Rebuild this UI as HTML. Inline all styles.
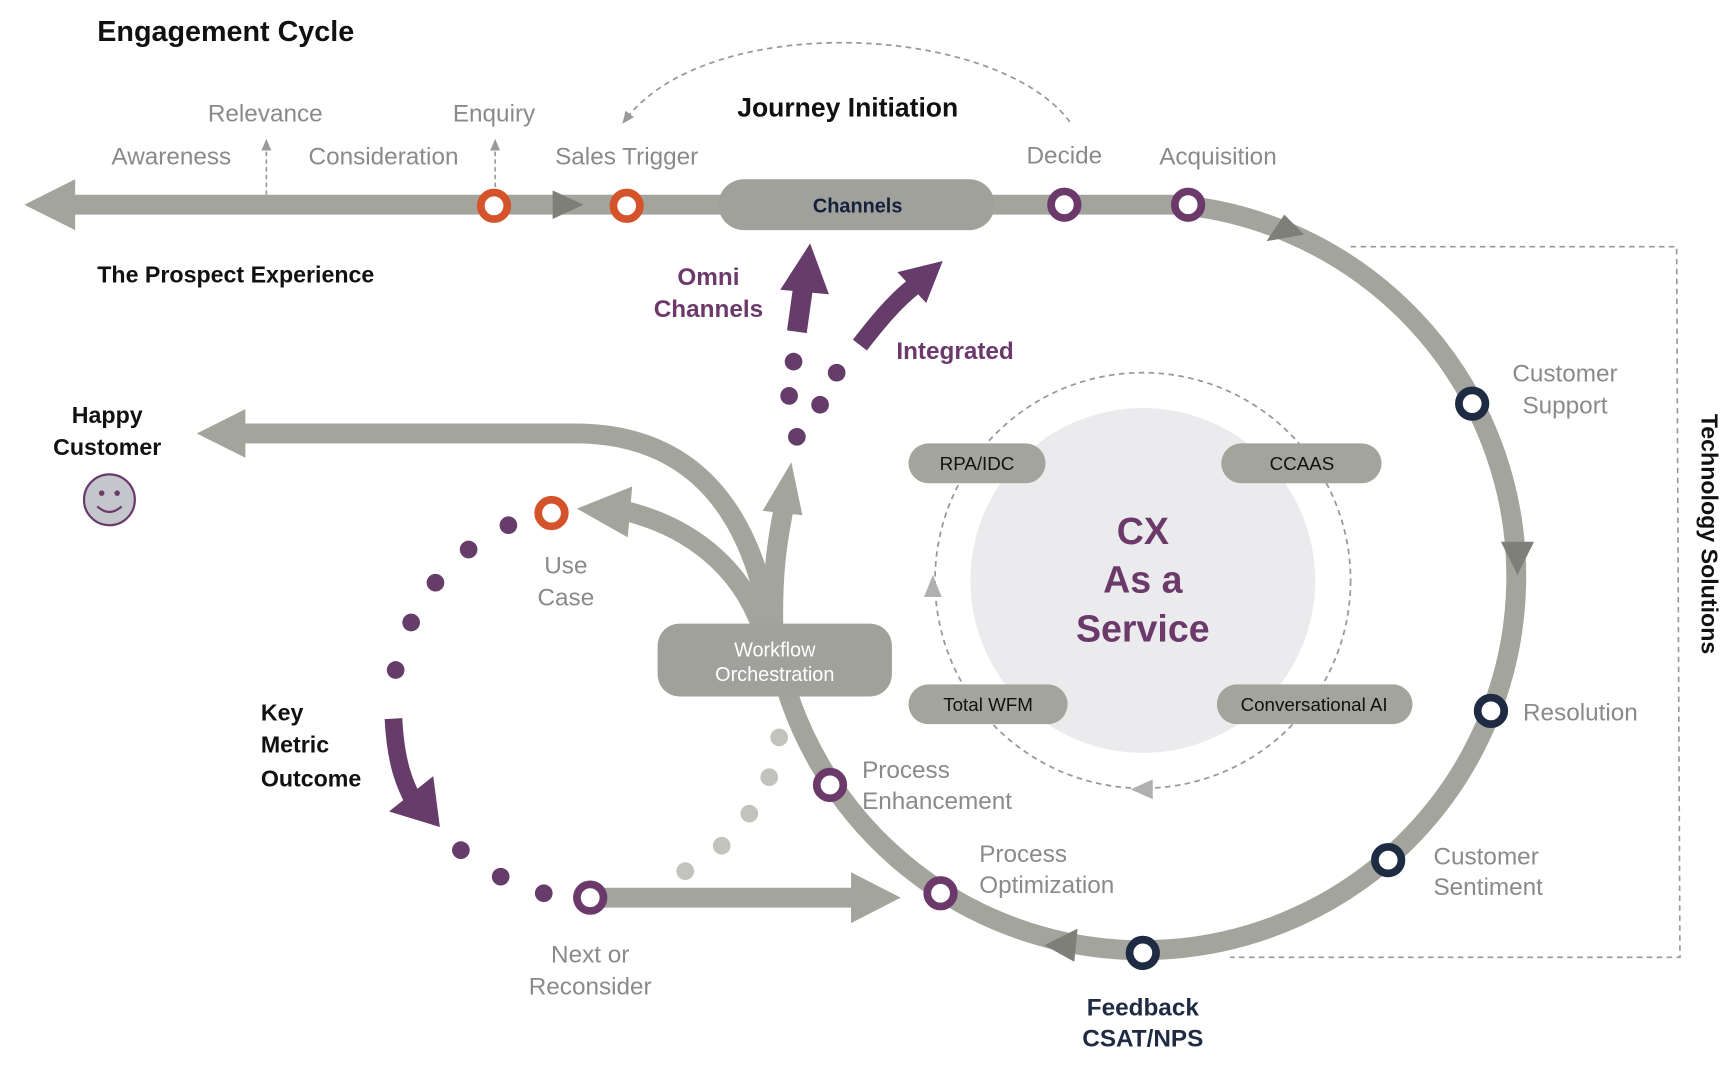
<!DOCTYPE html>
<html><head><meta charset="utf-8"><style>
html,body{margin:0;padding:0;background:#fff;}
svg{display:block;}
text{font-family:"Liberation Sans",sans-serif;}
</style></head><body>
<svg width="1733" height="1067" viewBox="0 0 1568 965" xmlns="http://www.w3.org/2000/svg">
<defs>
<marker id="dh" markerWidth="8" markerHeight="8" refX="4" refY="4" orient="auto"><path d="M0,1 L7,4 L0,7 Z" fill="#999"/></marker>
</defs>
<rect width="1568" height="965" fill="#fff"/>
<!-- dashed arcs -->
<path d="M968,110 C900,20 640,10 566,108" fill="none" stroke="#999" stroke-width="1.6" stroke-dasharray="5,4" marker-end="url(#dh)"/>
<path d="M241,176 L241,130" stroke="#999" stroke-width="1.5" stroke-dasharray="4,3" marker-end="url(#dh)"/>
<path d="M448,176 L448,130" stroke="#999" stroke-width="1.5" stroke-dasharray="4,3" marker-end="url(#dh)"/>
<path d="M1222,223 L1517,223 L1520,866 L1113,866" fill="none" stroke="#999" stroke-width="1.5" stroke-dasharray="5,4"/>
<!-- inner circle -->
<circle cx="1034" cy="525" r="156" fill="#ebebee"/>
<circle cx="1034" cy="525" r="188" fill="none" stroke="#999" stroke-width="1.6" stroke-dasharray="5,4"/>
<path d="M836,540 L844,520 L852,540 Z" fill="#b0b0b0"/>
<path d="M1043,705 L1023,714 L1043,723 Z" fill="#b0b0b0"/>
<!-- main line -->
<line x1="60" y1="185" x2="1080" y2="185" stroke="#a3a59d" stroke-width="18"/>
<path d="M22,185 L68,162 L68,208 Z" fill="#a3a59d"/>
<path d="M500,172 L528,185 L500,198 Z" fill="#7d7f78"/>
<!-- ring -->
<path d="M1075,186 A338,338 0 1 1 701,580" fill="none" stroke="#a3a59d" stroke-width="18"/>
<path d="M701,600 C690,480 640,392 520,392 L215,392" fill="none" stroke="#a3a59d" stroke-width="18"/>
<path d="M222,370 L178,392 L222,414 Z" fill="#a3a59d"/>
<path d="M690,570 C670,510 620,475 565,462" fill="none" stroke="#a3a59d" stroke-width="18"/>
<path d="M572,440 L522,460 L568,486 Z" fill="#a3a59d"/>
<path d="M700,580 C698,520 703,490 710,455" fill="none" stroke="#a3a59d" stroke-width="18"/>
<path d="M690,462 L716,418 L726,466 Z" fill="#a3a59d"/>
<path d="M1146,218 L1162,194 L1180,212 Z" fill="#7d7f78"/>
<path d="M1358,490 L1388,490 L1373,520 Z" fill="#7d7f78"/>
<path d="M975,840 L945,855 L972,870 Z" fill="#7d7f78"/>
<!-- next arrow -->
<line x1="540" y1="812" x2="775" y2="812" stroke="#a3a59d" stroke-width="18"/>
<path d="M770,789 L815,812 L770,835 Z" fill="#a3a59d"/>
<!-- channels -->
<rect x="650" y="162" width="250" height="46" rx="23" fill="#9fa19a"/>
<text x="776" y="192" font-size="18" font-weight="bold" fill="#15203d" text-anchor="middle">Channels</text>
<!-- workflow -->
<rect x="595" y="564" width="212" height="66" rx="20" fill="#9fa19a"/>
<text x="701" y="594" font-size="18" fill="#fff" text-anchor="middle">Workflow</text>
<text x="701" y="616" font-size="18" fill="#fff" text-anchor="middle">Orchestration</text>
<!-- pills -->
<g font-size="17" fill="#111" text-anchor="middle">
<rect x="822" y="401" width="124" height="36" rx="18" fill="#a3a59d"/><text x="884" y="425">RPA/IDC</text>
<rect x="1105" y="401" width="145" height="36" rx="18" fill="#a3a59d"/><text x="1178" y="425">CCAAS</text>
<rect x="822" y="619" width="144" height="36" rx="18" fill="#a3a59d"/><text x="894" y="643">Total WFM</text>
<rect x="1101" y="619" width="177" height="36" rx="18" fill="#a3a59d"/><text x="1189" y="643">Conversational AI</text>
</g>
<g font-size="34" font-weight="bold" fill="#6b3a6b" text-anchor="middle">
<text x="1034" y="492">CX</text><text x="1034" y="536">As a</text><text x="1034" y="580">Service</text>
</g>
<!-- purple arrows -->
<path d="M721,300 L728,250" stroke="#653c6a" stroke-width="18" fill="none"/>
<path d="M706,262 L733,220 L750,266 Z" fill="#653c6a"/>
<path d="M778,312 C795,290 810,272 828,258" stroke="#653c6a" stroke-width="16" fill="none"/>
<path d="M812,246 L853,236 L838,274 Z" fill="#653c6a"/>
<path d="M356,650 C358,690 366,710 376,728" stroke="#653c6a" stroke-width="16" fill="none"/>
<path d="M352,734 L398,748 L392,702 Z" fill="#653c6a"/>
<!-- dots -->
<g fill="#653c6a">
<circle cx="718" cy="327" r="8"/><circle cx="714" cy="358" r="8"/><circle cx="721" cy="395" r="8"/>
<circle cx="757" cy="337" r="8"/><circle cx="742" cy="366" r="8"/>
<circle cx="460" cy="475" r="8"/><circle cx="424" cy="497" r="8"/><circle cx="394" cy="527" r="8"/><circle cx="372" cy="563" r="8"/><circle cx="358" cy="606" r="8"/>
<circle cx="417" cy="769" r="8"/><circle cx="453" cy="793" r="8"/><circle cx="492" cy="808" r="8"/>
</g>
<g fill="#c2c3bd">
<circle cx="620" cy="788" r="8"/><circle cx="653" cy="765" r="8"/><circle cx="678" cy="736" r="8"/><circle cx="696" cy="703" r="8"/><circle cx="705" cy="667" r="8"/>
</g>
<!-- markers -->
<g fill="#fff" stroke-width="7">
<circle cx="447" cy="186" r="12" stroke="#d4532a"/><circle cx="567" cy="186" r="12" stroke="#d4532a"/><circle cx="499" cy="464" r="12" stroke="#d4532a"/>
<circle cx="963" cy="185" r="12" stroke="#6b3a6b"/><circle cx="1075" cy="185" r="12" stroke="#6b3a6b"/><circle cx="751" cy="710" r="12" stroke="#6b3a6b"/><circle cx="851" cy="808" r="12" stroke="#6b3a6b"/><circle cx="534" cy="812" r="12" stroke="#6b3a6b"/>
<circle cx="1332" cy="365" r="12" stroke="#1e2b42"/><circle cx="1349" cy="643" r="12" stroke="#1e2b42"/><circle cx="1256" cy="778" r="12" stroke="#1e2b42"/><circle cx="1034" cy="862" r="12" stroke="#1e2b42"/>
</g>
<!-- smiley -->
<circle cx="99" cy="452" r="23" fill="#c5c5cc" stroke="#6b3a6b" stroke-width="2"/>
<circle cx="92" cy="446" r="2.5" fill="#6b3a6b"/><circle cx="106" cy="446" r="2.5" fill="#6b3a6b"/>
<path d="M88,458 Q99,468 110,458" fill="none" stroke="#6b3a6b" stroke-width="2"/>
<!-- labels -->
<g font-size="22" fill="#8a8a8a" text-anchor="middle" dominant-baseline="middle">
<text x="240" y="104">Relevance</text><text x="447" y="104">Enquiry</text>
<text x="155" y="143">Awareness</text><text x="347" y="143">Consideration</text><text x="567" y="143">Sales Trigger</text>
<text x="963" y="142">Decide</text><text x="1102" y="143">Acquisition</text>
<text x="512" y="513">Use</text><text x="512" y="542">Case</text>
<text x="534" y="865">Next or</text><text x="534" y="894">Reconsider</text>
<text x="1416" y="339">Customer</text><text x="1416" y="368">Support</text>
</g>
<g font-size="22" fill="#8a8a8a" dominant-baseline="middle">
<text x="780" y="698">Process</text><text x="780" y="726">Enhancement</text>
<text x="886" y="774">Process</text><text x="886" y="802">Optimization</text>
<text x="1378" y="646">Resolution</text>
<text x="1297" y="776">Customer</text><text x="1297" y="804">Sentiment</text>
</g>
<g font-size="22" fill="#6b3a6b" font-weight="bold" dominant-baseline="middle">
<text x="641" y="252" text-anchor="middle">Omni</text><text x="641" y="281" text-anchor="middle">Channels</text>
<text x="811" y="319">Integrated</text>
</g>
<g font-size="22" fill="#1e2b42" font-weight="bold" text-anchor="middle" dominant-baseline="middle">
<text x="1034" y="913">Feedback</text><text x="1034" y="941">CSAT/NPS</text>
</g>
<g font-weight="bold" fill="#111" dominant-baseline="middle">
<text x="88" y="30" font-size="26">Engagement Cycle</text>
<text x="767" y="99" font-size="24" text-anchor="middle">Journey Initiation</text>
<text x="88" y="250" font-size="21">The Prospect Experience</text>
<text x="97" y="377" font-size="21" text-anchor="middle">Happy</text><text x="97" y="406" font-size="21" text-anchor="middle">Customer</text>
<text x="236" y="646" font-size="21">Key</text><text x="236" y="675" font-size="21">Metric</text><text x="236" y="706" font-size="21">Outcome</text>
<text x="1545" y="483" font-size="21" text-anchor="middle" transform="rotate(90 1545 483)">Technology  Solutions</text>
</g>
</svg>
</body></html>
